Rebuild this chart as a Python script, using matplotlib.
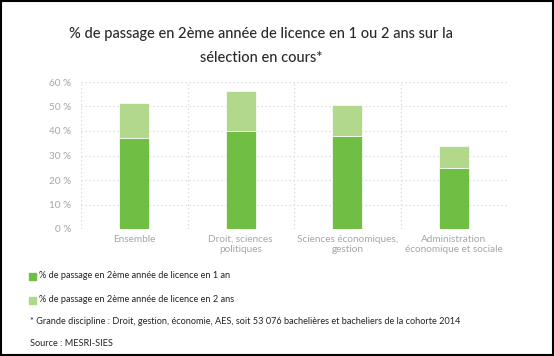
import numpy as np
import matplotlib.pyplot as plt
from matplotlib.patches import Rectangle

plt.rcParams['font.family'] = ['Lato', 'DejaVu Sans']

categories = ['Ensemble', 'Droit, sciences\npolitiques', 'Sciences économiques,\ngestion',
              'Administration\néconomique et sociale']
un_an = [37.1, 40.1, 38.1, 25.0]
deux_ans = [14.3, 16.2, 12.5, 9.0]
yticks = [0, 10, 20, 30, 40, 50, 60]

c_dark = '#70bf44'
c_light = '#b1d88b'
grey = '#a6a6a6'

fig = plt.figure(figsize=(5.54, 3.56), dpi=100)
ax = fig.add_axes([81/554, 1 - 229/356, 426/554, 147/356])

x = np.arange(len(categories))
ax.bar(x, un_an, width=0.28, color=c_dark, edgecolor='white', linewidth=0.5, zorder=3)
ax.bar(x, deux_ans, bottom=un_an, width=0.28, color=c_light, edgecolor='white', linewidth=0.5, zorder=3)

ax.set_xlim(-0.5, len(categories) - 0.5)
ax.set_ylim(0, 60)
ax.set_yticks(yticks)
ax.set_yticklabels(['%d %%' % v for v in yticks], color=grey, fontsize=7.2)
ax.set_xticks(x)
ax.set_xticklabels(categories, color=grey, fontsize=7.2, linespacing=1.15)
ax.tick_params(axis='x', length=0, pad=4)
ax.tick_params(axis='y', length=0, pad=7)

for v in yticks:
    ax.axhline(v, color='#dddddd', linestyle=(0, (1.2, 2)), linewidth=0.9, zorder=1)
for b in np.arange(-0.5, len(categories) - 0.5, 1):
    ax.axvline(b, color='#dddddd', linestyle=(0, (1.2, 2)), linewidth=0.9, zorder=1)
for s in ax.spines.values():
    s.set_visible(False)

fig.text(261/554, 1 - 34/356, '% de passage en 2ème année de licence en 1 ou 2 ans sur la',
         ha='center', va='center', fontsize=10.5, color='#2a2a2a', fontweight='medium')
fig.text(261/554, 1 - 58/356, 'sélection en cours*',
         ha='center', va='center', fontsize=10.5, color='#2a2a2a', fontweight='medium')

legend_items = [(c_dark, '% de passage en 2ème année de licence en 1 an', 276),
                (c_light, '% de passage en 2ème année de licence en 2 ans', 300)]
for col, lab, yp in legend_items:
    fig.patches.append(Rectangle((29/554, 1 - (yp + 3.5)/356), 7/554, 7/356,
                                 transform=fig.transFigure, color=col))
    fig.text(39/554, 1 - yp/356, lab, va='center', fontsize=6.6, color='#222222')

fig.text(30/554, 1 - 322/356,
         '* Grande discipline : Droit, gestion, économie, AES, soit 53 076 bachelières et bacheliers de la cohorte 2014',
         va='center', fontsize=6.6, color='#222222')
fig.text(30/554, 1 - 344/356, 'Source : MESRI-SIES', va='center', fontsize=6.6, color='#222222')

fig.patches.append(Rectangle((0.001, 0.002), 0.997, 0.996, transform=fig.transFigure,
                             fill=False, edgecolor='black', linewidth=1.5))

fig.savefig('out.png', dpi=100)
